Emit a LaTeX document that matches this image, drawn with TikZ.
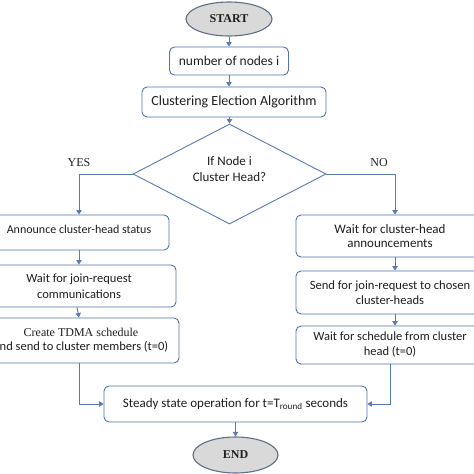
\documentclass[tikz,border=0pt]{standalone}
\usepackage{fontspec}
\setmainfont{Liberation Serif}
\newfontfamily\carl{Carlito}
\usetikzlibrary{shapes.geometric,arrows.meta}
\definecolor{boxc}{HTML}{4F72B0}
\definecolor{linec}{HTML}{5A7AB2}
\definecolor{ellf}{HTML}{D9D9D9}
\definecolor{elld}{HTML}{5F6F88}
\definecolor{txt}{HTML}{1E1E1E}
\tikzset{
  pbox/.style={draw=boxc, line width=0.9pt, rounded corners=5pt, align=center, inner sep=1pt, text=txt, font=\carl\fontsize{12}{15}\selectfont},
  term/.style={ellipse, draw=elld, fill=ellf, line width=1.1pt, text=txt, font=\bfseries\fontsize{12}{14}\selectfont, inner sep=0pt},
  conn/.style={draw=linec, line width=0.9pt, -{Triangle[width=5.5pt,length=4.5pt]}},
  lab/.style={text=txt, font=\fontsize{12}{14}\selectfont}
}
\begin{document}
\begin{tikzpicture}[x=1pt,y=-1pt]
\useasboundingbox (0,0) rectangle (474,474);
\begin{scope}
\clip (0,0) rectangle (474,474);
\node[term, minimum width=86pt, minimum height=34pt] (start) at (229,19) {START};
\node[pbox, minimum width=119pt, minimum height=28pt, font=\carl\fontsize{13.5}{15}\selectfont] (n1) at (229,61) {number of nodes i};
\node[pbox, minimum width=184pt, minimum height=30pt, font=\carl\fontsize{14}{15}\selectfont] (n2) at (234,102) {Clustering Election Algorithm};
\node[diamond, draw=linec, line width=0.9pt, minimum width=193pt, minimum height=100pt, inner sep=0pt] (d) at (229.5,174) {};
\node[align=center, text=txt, font=\carl\fontsize{13}{16}\selectfont] (dt) at (229.5,169) {If Node i\\Cluster Head?};
\node[lab] (yes) at (79,163) {YES};
\node[lab] (no) at (379,163) {NO};
\node[pbox, minimum width=180pt, minimum height=35pt, text depth=6pt] (a1) at (79,232.5) {Announce cluster-head status};
\node[pbox, minimum width=194pt, minimum height=42pt, font=\carl\fontsize{12.5}{16}\selectfont] (a2) at (79,286) {Wait for join-request\\communications};
\node[pbox, minimum width=196pt, minimum height=45pt, font=\carl\fontsize{12.5}{14}\selectfont] (a3) at (81,340.5) {{\rmfamily\fontsize{12}{13}\selectfont Create TDMA schedule}\\and send to cluster members (t=0)};
\node[pbox, minimum width=188pt, minimum height=42pt, font=\carl\fontsize{13}{14.5}\selectfont] (b1) at (390,236) {Wait for cluster-head\\announcements};
\node[pbox, minimum width=188pt, minimum height=43pt, font=\carl\fontsize{12.6}{15}\selectfont] (b2) at (390,292.5) {Send for join-request to chosen\\cluster-heads};
\node[pbox, minimum width=188pt, minimum height=38pt, font=\carl\fontsize{12.5}{15}\selectfont] (b3) at (390,345) {Wait for schedule from cluster\\head (t=0)};
\node[pbox, minimum width=263pt, minimum height=36pt, font=\carl\fontsize{13}{15}\selectfont] (st) at (235.5,404) {Steady state operation for t=T\textsubscript{round} seconds};
\node[term, minimum width=85pt, minimum height=36pt] (end) at (235.5,455) {END};
\draw[conn] (start.south) -- (n1.north);
\draw[conn] (n1.south) -- (n1.south |- n2.north);
\draw[conn] (d.north |- n2.south) -- (d.north);
\draw[conn] (d.west) -| (a1.north);
\draw[conn] (d.east) -| ([xshift=5pt]b1.north);
\draw[conn] (a1.south) -- (a2.north);
\draw[conn] ([xshift=-2pt]a2.south) -- ([xshift=-2pt]a3.north);
\draw[conn] ([xshift=5pt]b1.south) -- ([xshift=5pt]b2.north);
\draw[conn] ([xshift=5pt]b2.south) -- ([xshift=5pt]b3.north);
\draw[conn] ([xshift=-2pt]a3.south) |- (st.west);
\draw[conn] (b3.south) |- (st.east);
\draw[conn] (st.south) -- (end.north);
\end{scope}
\end{tikzpicture}
\end{document}
